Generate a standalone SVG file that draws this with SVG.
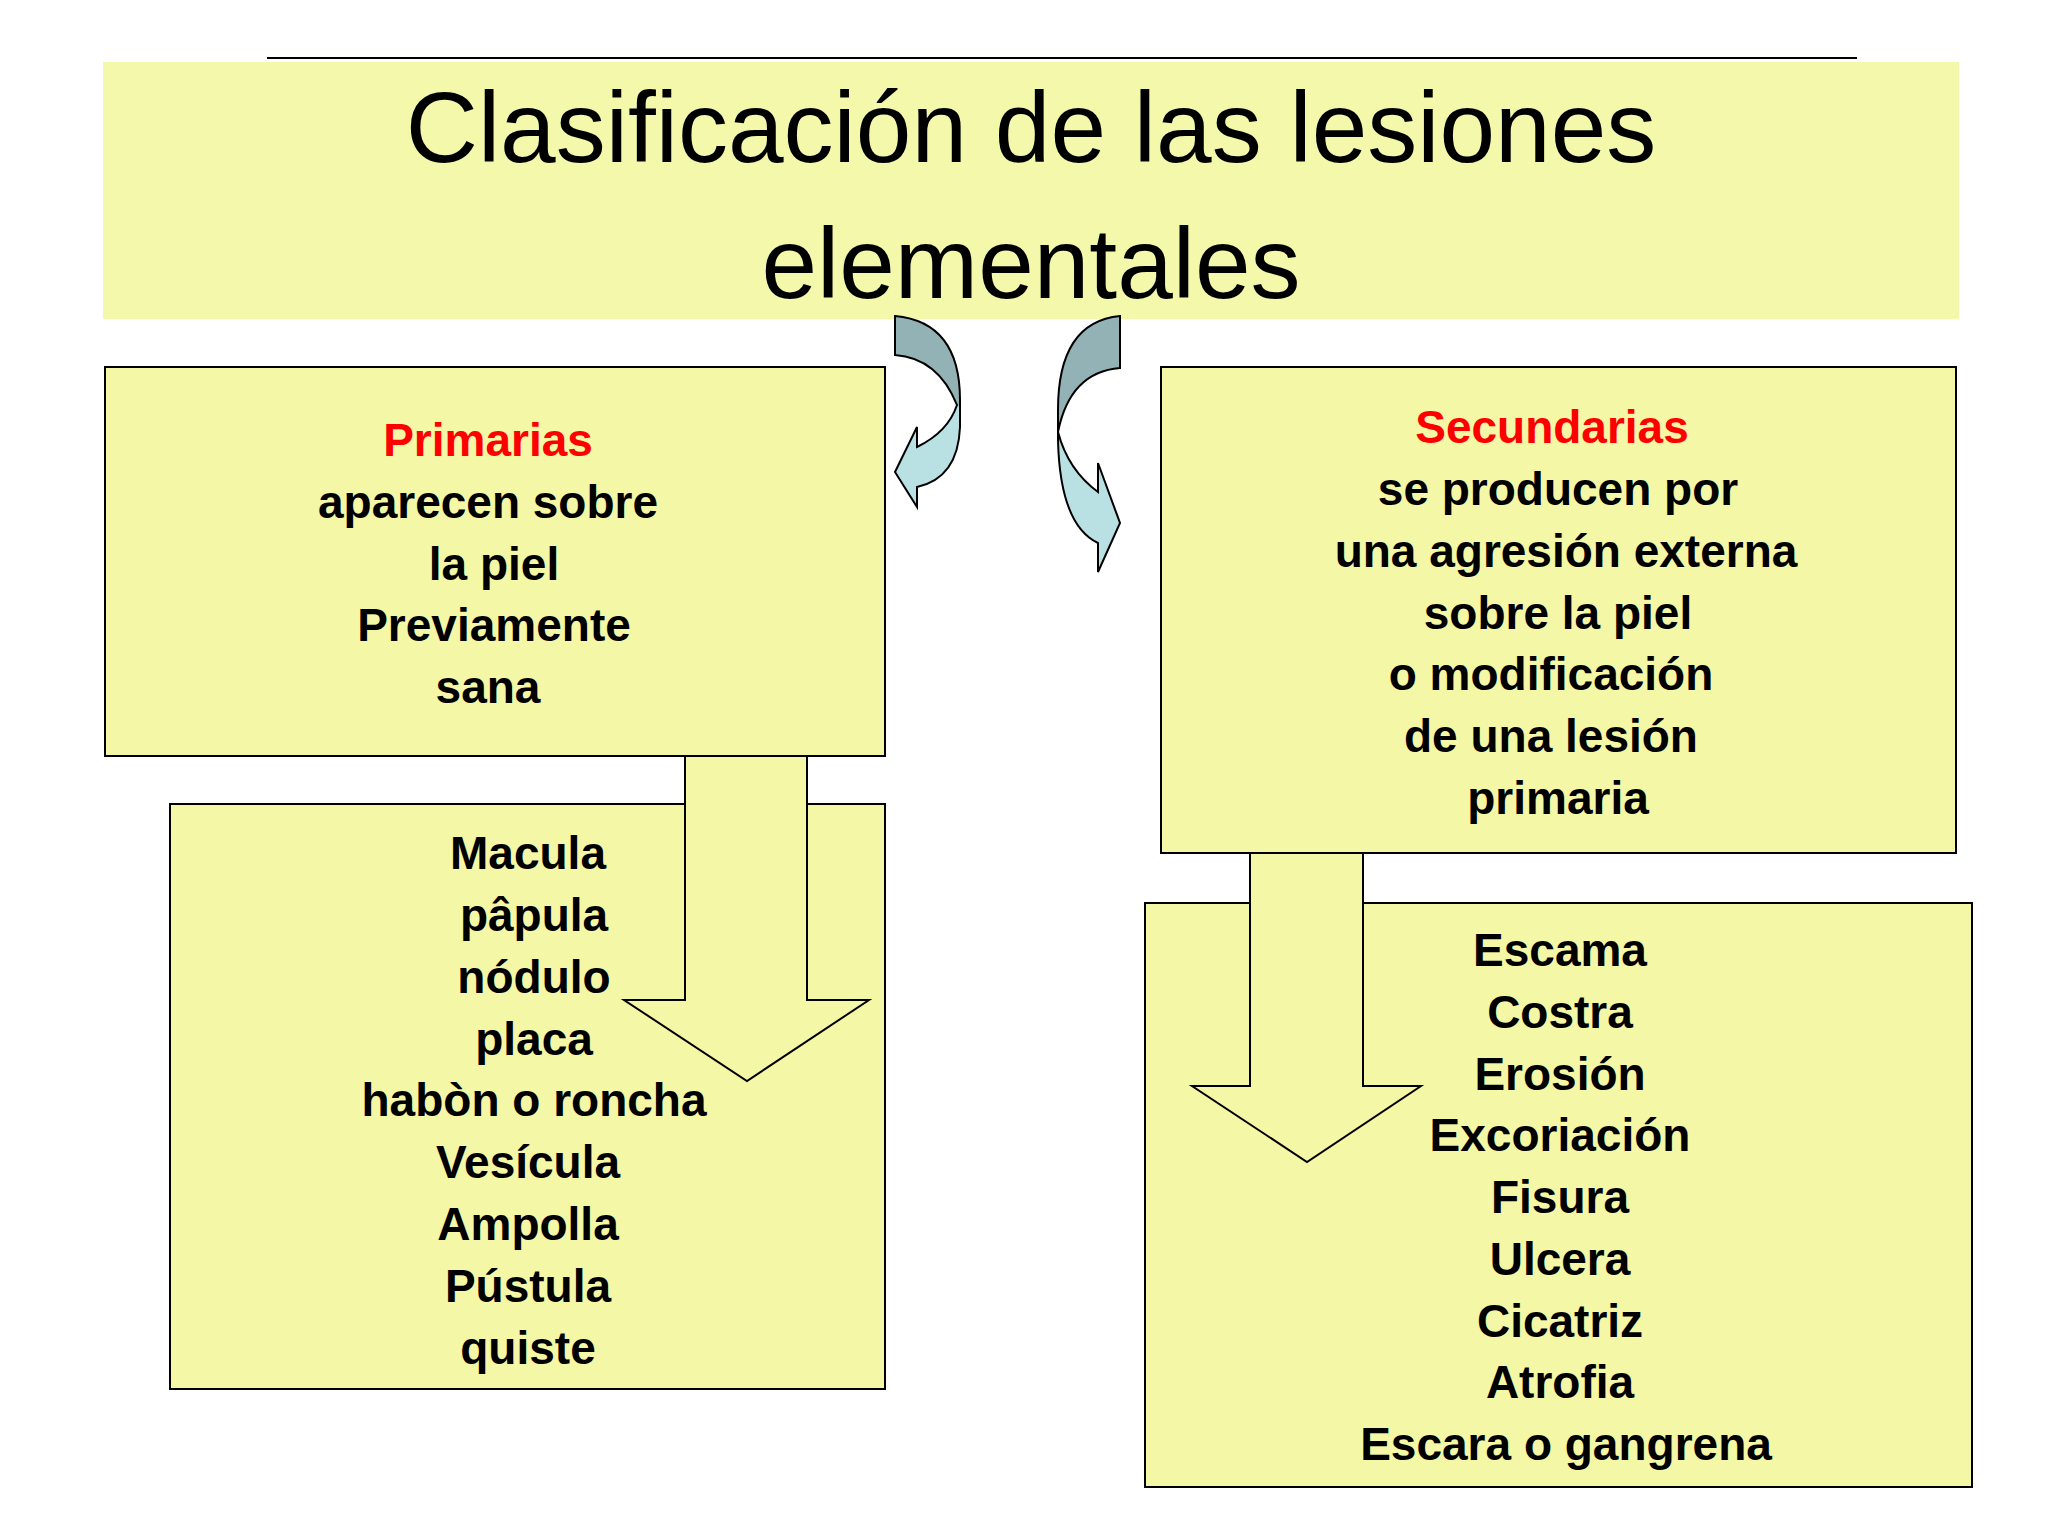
<svg xmlns="http://www.w3.org/2000/svg" width="2048" height="1536" viewBox="0 0 2048 1536">
<style>
.box{fill:#f3f7a6;stroke:#000;stroke-width:2}
.t{font-family:"Liberation Sans",Arial,sans-serif;font-weight:bold;font-size:46px;text-anchor:middle;fill:#000}
.red{fill:#ff0000}
.title{font-family:"Liberation Sans",Arial,sans-serif;font-size:100px;text-anchor:middle;fill:#000}
.curv{stroke:#000;stroke-width:2}
</style>
<defs>
<linearGradient id="gL" gradientUnits="userSpaceOnUse" x1="0" y1="316" x2="0" y2="507">
<stop offset="0" stop-color="#93b2b6"/><stop offset="0.47" stop-color="#93b2b6"/><stop offset="0.47" stop-color="#b9e1e4"/><stop offset="1" stop-color="#b9e1e4"/>
</linearGradient>
<linearGradient id="gR" gradientUnits="userSpaceOnUse" x1="0" y1="316" x2="0" y2="572">
<stop offset="0" stop-color="#93b2b6"/><stop offset="0.45" stop-color="#93b2b6"/><stop offset="0.45" stop-color="#b9e1e4"/><stop offset="1" stop-color="#b9e1e4"/>
</linearGradient>
</defs>
<rect width="2048" height="1536" fill="#fff"/>
<g id="title">
<line x1="267" y1="58" x2="1857" y2="58" stroke="#000" stroke-width="2"/>
<rect x="103" y="62" width="1856" height="257" fill="#f3f8ab"/>
<text class="title" x="1031" y="162">Clasificación de las lesiones</text>
<text class="title" x="1031" y="298">elementales</text>
</g>
<g id="connectors">
<path class="curv" fill="url(#gL)" d="M895,316 Q960,322 960,400 L960,427 Q958,478 917,487 L917,507 L895,472 L917,427 L917,447 Q948,432 957,405 Q938,358 895,355 Z"/>
<path class="curv" fill="url(#gR)" d="M1120,316 Q1058,322 1058,410 L1058,440 Q1060,525 1098,543 L1098,572 L1120,523 L1098,463 L1098,492 Q1068,470 1058,432 Q1070,372 1120,368 Z"/>
</g>
<g id="primarias">
<rect class="box" x="105" y="367" width="780" height="389"/>
<text class="t red" x="488" y="456">Primarias</text>
<text class="t" x="488" y="518">aparecen sobre</text>
<text class="t" x="494" y="580">la piel</text>
<text class="t" x="494" y="641">Previamente</text>
<text class="t" x="488" y="703">sana</text>
</g>
<g id="lista-primarias">
<rect class="box" x="170" y="804" width="715" height="585"/>
<text class="t" x="528" y="869">Macula</text>
<text class="t" x="534" y="931">pâpula</text>
<text class="t" x="534" y="993">nódulo</text>
<text class="t" x="534" y="1055">placa</text>
<text class="t" x="534" y="1116">habòn o roncha</text>
<text class="t" x="528" y="1178">Vesícula</text>
<text class="t" x="528" y="1240">Ampolla</text>
<text class="t" x="528" y="1302">Pústula</text>
<text class="t" x="528" y="1364">quiste</text>
</g>
<g id="flecha-izq">
<polygon class="box" points="685,756 807,756 807,1000 869,1000 747,1081 624,1000 685,1000"/>
</g>
<g id="secundarias">
<rect class="box" x="1161" y="367" width="795" height="486"/>
<text class="t red" x="1552" y="443">Secundarias</text>
<text class="t" x="1558" y="505">se producen por</text>
<text class="t" x="1566" y="567">una agresión externa</text>
<text class="t" x="1558" y="629">sobre la piel</text>
<text class="t" x="1551" y="690">o modificación</text>
<text class="t" x="1551" y="752">de una lesión</text>
<text class="t" x="1558" y="814">primaria</text>
</g>
<g id="lista-secundarias">
<rect class="box" x="1145" y="903" width="827" height="584"/>
<text class="t" x="1560" y="966">Escama</text>
<text class="t" x="1560" y="1028">Costra</text>
<text class="t" x="1560" y="1090">Erosión</text>
<text class="t" x="1560" y="1151">Excoriación</text>
<text class="t" x="1560" y="1213">Fisura</text>
<text class="t" x="1560" y="1275">Ulcera</text>
<text class="t" x="1560" y="1337">Cicatriz</text>
<text class="t" x="1560" y="1398">Atrofia</text>
<text class="t" x="1566" y="1460">Escara o gangrena</text>
</g>
<g id="flecha-der">
<polygon class="box" points="1250,853 1363,853 1363,1086 1421,1086 1307,1162 1192,1086 1250,1086"/>
</g>
</svg>
